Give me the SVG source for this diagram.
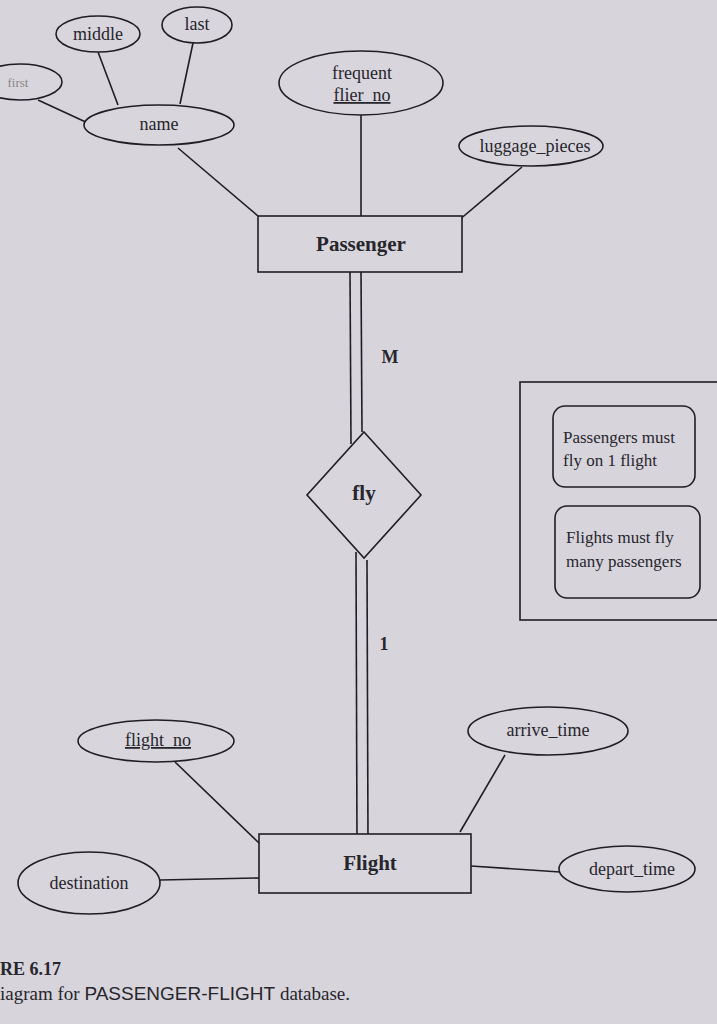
<svg xmlns="http://www.w3.org/2000/svg" width="717" height="1024" viewBox="0 0 717 1024">
<style>
.s{fill:none;stroke:#1e1e24;stroke-width:1.6}
.e{fill:#d9d5dd;stroke:#1e1e24;stroke-width:1.6}
.t{font-family:"Liberation Serif",serif;font-size:18px;fill:#26262c;text-anchor:middle}
.n{font-family:"Liberation Serif",serif;font-size:17px;fill:#26262c;text-anchor:start}
.b{font-weight:bold;font-size:21px}
</style>
<rect width="717" height="1024" fill="#d8d4dc"/>
<g id="connectors" class="s">
<line x1="38" y1="100" x2="90" y2="124"/>
<line x1="98" y1="52" x2="118" y2="105"/>
<line x1="193" y1="43" x2="180" y2="104"/>
<line x1="178" y1="148" x2="258" y2="216"/>
<line x1="361" y1="115" x2="361" y2="216"/>
<line x1="522" y1="167" x2="452" y2="226"/>
<line x1="350" y1="272" x2="351" y2="444"/>
<line x1="361" y1="272" x2="362" y2="432"/>
<line x1="356" y1="552" x2="357" y2="842"/>
<line x1="367" y1="560" x2="368" y2="842"/>
<line x1="175" y1="762" x2="259" y2="843"/>
<line x1="505" y1="755" x2="460" y2="832"/>
<line x1="160" y1="880" x2="259" y2="878"/>
<line x1="471" y1="866" x2="560" y2="872"/>
</g>
<g id="first"><ellipse class="e" cx="20" cy="82" rx="42" ry="18"/><text class="t" x="18" y="87" style="font-size:13px;fill:#888">first</text></g>
<g id="middle"><ellipse class="e" cx="98" cy="34" rx="42" ry="18"/><text class="t" x="98" y="40">middle</text></g>
<g id="last"><ellipse class="e" cx="197" cy="25" rx="35" ry="18"/><text class="t" x="197" y="30">last</text></g>
<g id="name"><ellipse class="e" cx="159" cy="125" rx="75" ry="20"/><text class="t" x="159" y="130">name</text></g>
<g id="frequent"><ellipse class="e" cx="361" cy="83" rx="82" ry="32"/><text class="t" x="362" y="79">frequent</text><text class="t" x="362" y="101" text-decoration="underline">flier_no</text></g>
<g id="luggage"><ellipse class="e" cx="531" cy="146" rx="72" ry="20"/><text class="t" x="535" y="152">luggage_pieces</text></g>
<g id="passenger"><rect class="e" x="258" y="216" width="204" height="56"/><text class="t b" x="361" y="251">Passenger</text></g>
<g id="fly"><polygon class="e" points="364,432 421,495 364,558 307,495"/><text class="t b" x="364" y="500">fly</text></g>
<text class="t" x="390" y="363" font-weight="bold">M</text>
<text class="t" x="384" y="650" font-weight="bold">1</text>
<g id="notes">
<rect class="s" x="520" y="382" width="200" height="238"/>
<rect class="s" x="553" y="406" width="142" height="81" rx="12"/>
<text class="n" x="563" y="443">Passengers must</text>
<text class="n" x="563" y="466">fly on 1 flight</text>
<rect class="s" x="555" y="506" width="145" height="92" rx="12"/>
<text class="n" x="566" y="543">Flights must fly</text>
<text class="n" x="566" y="567">many passengers</text>
</g>
<g id="flight_no"><ellipse class="e" cx="156" cy="741" rx="78" ry="21"/><text class="t" x="158" y="746" text-decoration="underline">flight_no</text></g>
<g id="arrive"><ellipse class="e" cx="548" cy="731" rx="80" ry="24"/><text class="t" x="548" y="736">arrive_time</text></g>
<g id="flight"><rect class="e" x="259" y="834" width="212" height="59"/><text class="t b" x="370" y="870">Flight</text></g>
<g id="destination"><ellipse class="e" cx="89" cy="883" rx="71" ry="31"/><text class="t" x="89" y="889">destination</text></g>
<g id="depart"><ellipse class="e" cx="627" cy="869" rx="68" ry="23"/><text class="t" x="632" y="875">depart_time</text></g>
<text x="0" y="975" font-family="Liberation Serif,serif" font-weight="bold" font-size="18" fill="#26262c">RE 6.17</text>
<text x="0" y="1000" font-family="Liberation Serif,serif" font-size="19" fill="#26262c">iagram for <tspan font-family="Liberation Sans,sans-serif">PASSENGER-FLIGHT</tspan> database.</text>
</svg>
